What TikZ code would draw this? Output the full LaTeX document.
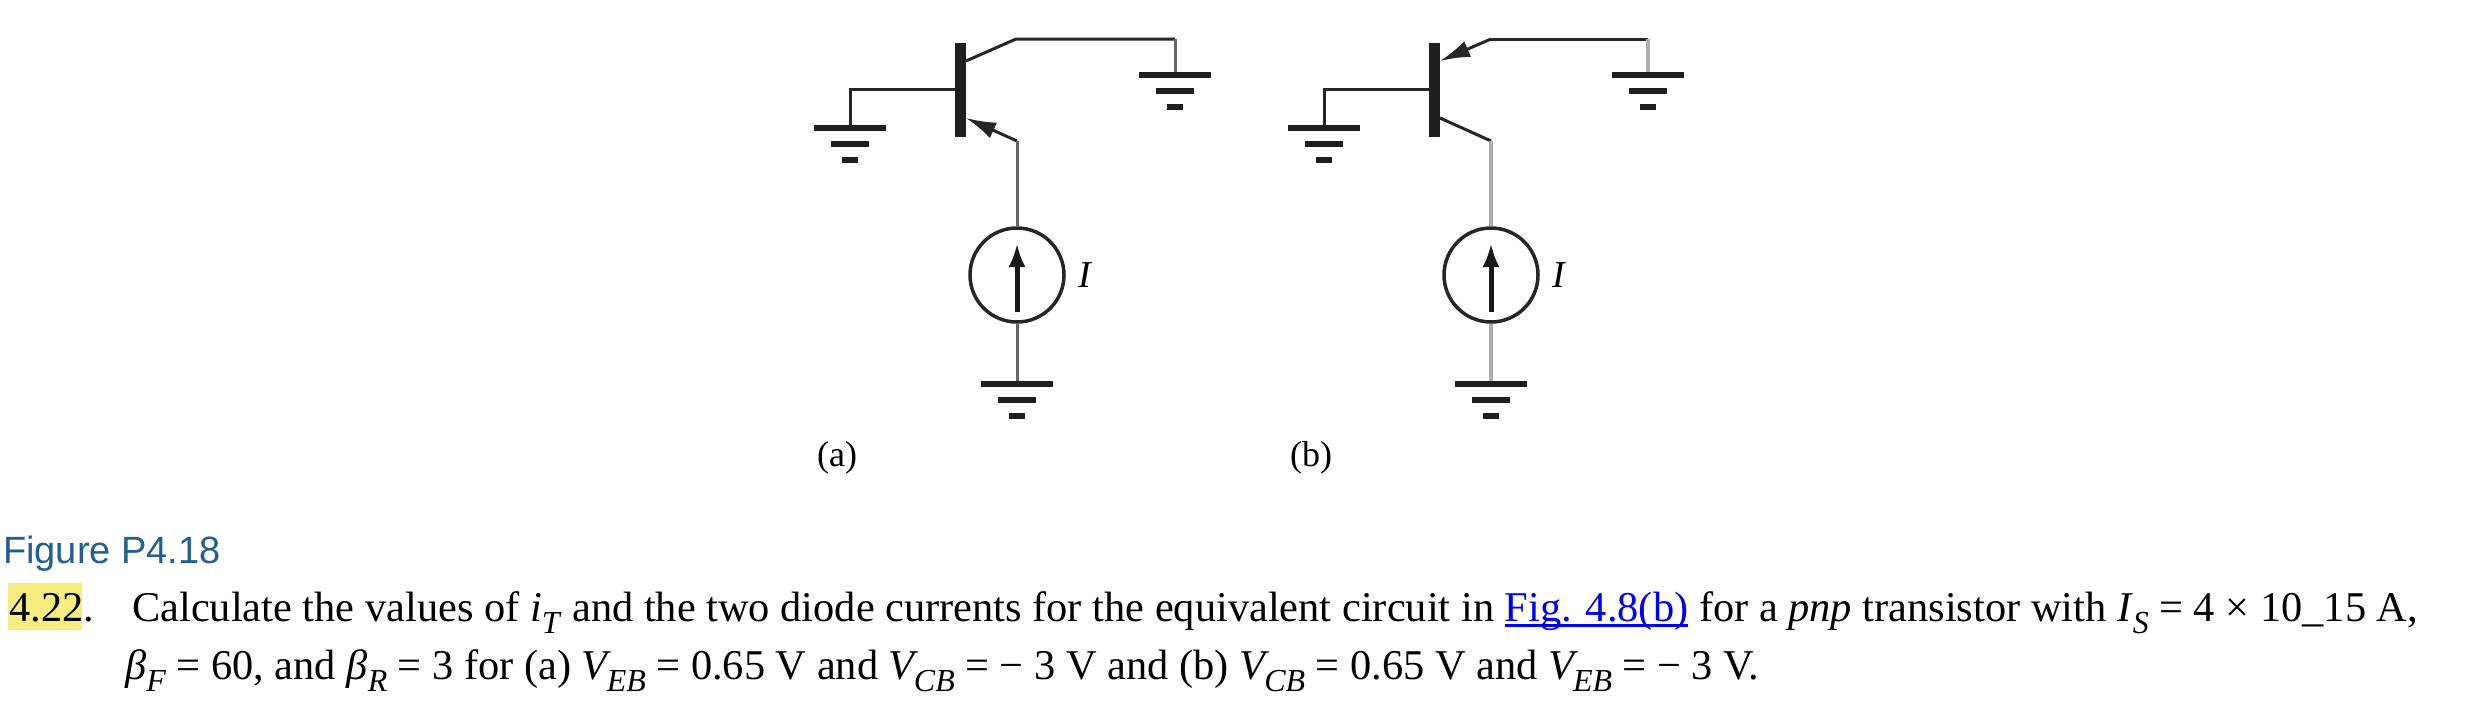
\documentclass[tikz,border=0pt]{standalone}
\usepackage{fontspec}
\setmainfont{Liberation Serif}
\newfontfamily\figfont{Liberation Sans}
\usetikzlibrary{arrows.meta}
\definecolor{wiregray}{gray}{0.40}
\definecolor{wirelight}{gray}{0.68}
\definecolor{figblue}{HTML}{1F6090}
\definecolor{marker}{HTML}{F5EE7E}
\definecolor{linkblue}{HTML}{0000EE}
\newcommand{\lowsub}[1]{\raisebox{-0.3em}{\fontsize{32}{32}\selectfont\textit{#1}}}
\newcommand{\volt}[1]{\textit{V}\kern-5pt\lowsub{#1}}
\newcommand{\linktext}[1]{\textcolor{linkblue}{\setbox0\hbox{#1}\rlap{\rule[-6pt]{\wd0}{3.5pt}}\box0}}
\tikzset{
    wire/.style={line width=3pt,black!85},
    greywire/.style={line width=3pt,wiregray},
    paleWire/.style={line width=4pt,wirelight},
    basebar/.style={fill=black!88,draw=none,minimum width=11pt,minimum height=94pt,inner sep=0pt},
    source/.style={circle,draw=black!85,line width=3.5pt,minimum size=94pt,inner sep=0pt},
    gndsym/.pic={
        \fill[black!88] (-36,-2.7) rectangle (36,2.7);
        \fill[black!88] (-19,13.3) rectangle (19,18.7);
        \fill[black!88] (-8,29.3) rectangle (8,34.7);
    },
    txt/.style={inner sep=0pt,anchor=base west,font=\fontsize{42.4}{50}\selectfont},
    sublabel/.style={inner sep=0pt,font=\fontsize{36}{42}\selectfont},
    srclabel/.style={inner sep=0pt,font=\fontsize{38}{46}\selectfont\itshape},
    uparrow/.style={line width=5pt,black!90,-{Latex[length=24pt,width=17pt]}},
    emitarrow/.style={-{Latex[length=30pt,width=17pt]}}
}
\begin{document}
\begin{tikzpicture}[x=1pt,y=-1pt]
    \useasboundingbox (0,0) rectangle (2467,712);
    % circuit (a)
    \begin{scope}
        \node[basebar] (bara) at (960.5,90) {};
        \coordinate (ca) at (966,61);
        \coordinate (cbenda) at (1016,39);
        \coordinate (cturna) at (1175,39);
        \coordinate (gca) at (1175,75);
        \coordinate (ba) at (955,89.5);
        \coordinate (bturna) at (850,89.5);
        \coordinate (gba) at (850,128);
        \coordinate (ea) at (966,118);
        \coordinate (ebenda) at (1017,141);
        \node[source] (srca) at (1017,275) {};
        \coordinate (gsa) at (1017,384);
        \coordinate (arrbota) at (1017,312);
        \coordinate (arrtopa) at (1017,243);
        \draw[wire] (ca) -- (cbenda) -- (cturna);
        \draw[greywire] (cturna) -- (gca);
        \draw[wire] (ba) -- (bturna) -- (gba);
        \draw[wire,emitarrow] (ebenda) -- (ea);
        \draw[greywire] (ebenda) -- (srca);
        \draw[greywire] (srca) -- (gsa);
        \draw[uparrow] (arrbota) -- (arrtopa);
        \pic at (gca) {gndsym};
        \pic at (gba) {gndsym};
        \pic at (gsa) {gndsym};
        \node[srclabel] (la) at (1085,275) {I};
        \node[sublabel] (capa) at (837,458) {(a)};
    \end{scope}
    % circuit (b)
    \begin{scope}[shift={(474,0)}]
        \node[basebar] (barb) at (960.5,90) {};
        \coordinate (cb) at (966,61);
        \coordinate (cbendb) at (1017,39);
        \coordinate (cturnb) at (1174,39);
        \coordinate (gcb) at (1174,75);
        \coordinate (bb) at (955,89.5);
        \coordinate (bturnb) at (850,89.5);
        \coordinate (gbb) at (850,128);
        \coordinate (eb) at (966,118);
        \coordinate (ebendb) at (1017,141);
        \node[source] (srcb) at (1017,275) {};
        \coordinate (gsb) at (1017,384);
        \coordinate (arrbotb) at (1017,312);
        \coordinate (arrtopb) at (1017,243);
        \draw[wire,emitarrow] (cbendb) -- (cb);
        \draw[wire] (cbendb) -- (cturnb);
        \draw[paleWire] (cturnb) -- (gcb);
        \draw[wire] (bb) -- (bturnb) -- (gbb);
        \draw[wire] (eb) -- (ebendb);
        \draw[paleWire] (ebendb) -- (srcb);
        \draw[paleWire] (srcb) -- (gsb);
        \draw[uparrow] (arrbotb) -- (arrtopb);
        \pic at (gcb) {gndsym};
        \pic at (gbb) {gndsym};
        \pic at (gsb) {gndsym};
        \node[srclabel] (lb) at (1085,275) {I};
        \node[sublabel] (capb) at (837,458) {(b)};
    \end{scope}
    % caption and problem text
    \node[inner sep=0pt,anchor=base west,text=figblue,font=\fontsize{38}{44}\selectfont\figfont] (figname) at (3,563) {Figure P4.18};
    \fill[marker] (8,583) rectangle (82,630);
    \node[txt] (num) at (9,621) {4.22.};
    \node[txt] (lineone) at (132,621) {Calculate the values of \textit{i}\lowsub{T} and the two diode currents for the equivalent circuit in \linktext{Fig. 4.8(b)} for a \textit{pnp} transistor with \textit{I}\lowsub{S} = 4 × 10\_15 A,};
    \node[txt] (linetwo) at (125,679) {\textit{β}\lowsub{F} = 60, and \textit{β}\lowsub{R} = 3 for (a) \volt{EB} = 0.65 V and \volt{CB} = − 3 V and (b) \volt{CB} = 0.65 V and \volt{EB} = − 3 V.};
\end{tikzpicture}
\end{document}
